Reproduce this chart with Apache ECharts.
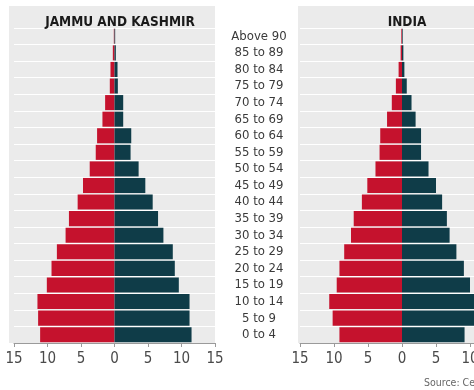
<!DOCTYPE html>
<html>
<head>
<meta charset="utf-8">
<style>
html,body{margin:0;padding:0;background:#fff;}
#c{width:474px;height:390px;}
</style>
<script src="https://cdn.jsdelivr.net/npm/echarts@6/dist/echarts.min.js"></script>
</head>
<body>
<div id="c"></div>
<script>
const ageGroups = ['0 to 4','5 to 9','10 to 14','15 to 19','20 to 24','25 to 29','30 to 34','35 to 39','40 to 44','45 to 49','50 to 54','55 to 59','60 to 64','65 to 69','70 to 74','75 to 79','80 to 84','85 to 89','Above 90'];
const jkLeft  = [11.1,11.4,11.5,10.1,9.4,8.6,7.3,6.8,5.5,4.7,3.7,2.8,2.6,1.8,1.4,0.7,0.6,0.25,0.1];
const jkRight = [11.5,11.2,11.2,9.6,9.0,8.7,7.3,6.5,5.7,4.6,3.6,2.4,2.5,1.3,1.3,0.5,0.45,0.2,0.1];
const inLeft  = [9.2,10.2,10.7,9.6,9.2,8.5,7.5,7.1,5.9,5.1,3.9,3.3,3.2,2.2,1.5,0.9,0.5,0.2,0.1];
const inRight = [9.2,10.8,11.0,10.0,9.1,8.0,7.0,6.6,5.9,5.0,3.9,2.8,2.8,2.0,1.4,0.7,0.35,0.2,0.1];
const xTicks = [-15,-10,-5,0,5,10,15];

const FONT = "'Liberation Sans Narrow','DejaVu Sans Condensed','Roboto Condensed',sans-serif";
const RED = '#c5122d';
const DARK = '#0f3c48';

const chart = echarts.init(document.getElementById('c'), null, {renderer:'canvas'});

function xAxisCfg(gi){
  return {
    gridIndex: gi, type:'value', min: xTicks[0], max: xTicks[xTicks.length-1], interval: 5,
    axisLine:{show:true, onZero:false, lineStyle:{color:'#9a9a9a', width:1}},
    axisTick:{show:true, length:4, lineStyle:{color:'#9a9a9a'}},
    splitLine:{show:false},
    axisLabel:{fontFamily:FONT, fontSize:15, color:'#4a4a4a', margin:9, formatter:v=>Math.abs(v)}
  };
}
function yAxisCfg(gi, showLabels){
  return {
    gridIndex: gi, type:'category', data: ageGroups, boundaryGap:true,
    axisLine:{show:false, onZero:false}, axisTick:{show:false},
    splitLine:{show:true, lineStyle:{color:'#ffffff', width:1.2}},
    axisLabel:{show:showLabels, fontFamily:FONT, fontSize:13, color:'#3a3a3a', align:'center', margin:41, interval:0}
  };
}

chart.setOption({
  animation:false,
  graphic:[
    {type:'rect', z:-10, shape:{x:9, y:6, width:206, height:337}, style:{fill:'#ebebeb'}},
    {type:'rect', z:-10, shape:{x:298, y:6, width:200, height:337}, style:{fill:'#ebebeb'}}
  ],
  title:[
    {text:'JAMMU AND KASHMIR', left:115, top:10, textAlign:'center',
     textStyle:{fontFamily:FONT, fontSize:13.5, fontWeight:'bold', color:'#1a1a1a'}},
    {text:'INDIA', left:402, top:10, textAlign:'center',
     textStyle:{fontFamily:FONT, fontSize:13.5, fontWeight:'bold', color:'#1a1a1a'}},
    {text:'Source: Census 2011', left:419, top:373,
     textStyle:{fontFamily:FONT, fontSize:10.5, fontWeight:'normal', color:'#666'}}
  ],
  grid:[
    {left:14, top:28, width:201, height:315, outerBoundsMode:'none', containLabel:false},
    {left:300, top:28, width:204, height:315, outerBoundsMode:'none', containLabel:false}
  ],
  xAxis:[xAxisCfg(0), xAxisCfg(1)],
  yAxis:[yAxisCfg(0,false), yAxisCfg(1,true)],
  series:[
    {type:'bar', xAxisIndex:0, yAxisIndex:0, data: jkLeft.map(v=>-v), itemStyle:{color:RED}, barCategoryGap:'9%', barGap:'-100%'},
    {type:'bar', xAxisIndex:0, yAxisIndex:0, data: jkRight, itemStyle:{color:DARK}, barCategoryGap:'9%', barGap:'-100%'},
    {type:'bar', xAxisIndex:1, yAxisIndex:1, data: inLeft.map(v=>-v), itemStyle:{color:RED}, barCategoryGap:'9%', barGap:'-100%'},
    {type:'bar', xAxisIndex:1, yAxisIndex:1, data: inRight, itemStyle:{color:DARK}, barCategoryGap:'9%', barGap:'-100%'}
  ]
});
</script>
</body>
</html>
